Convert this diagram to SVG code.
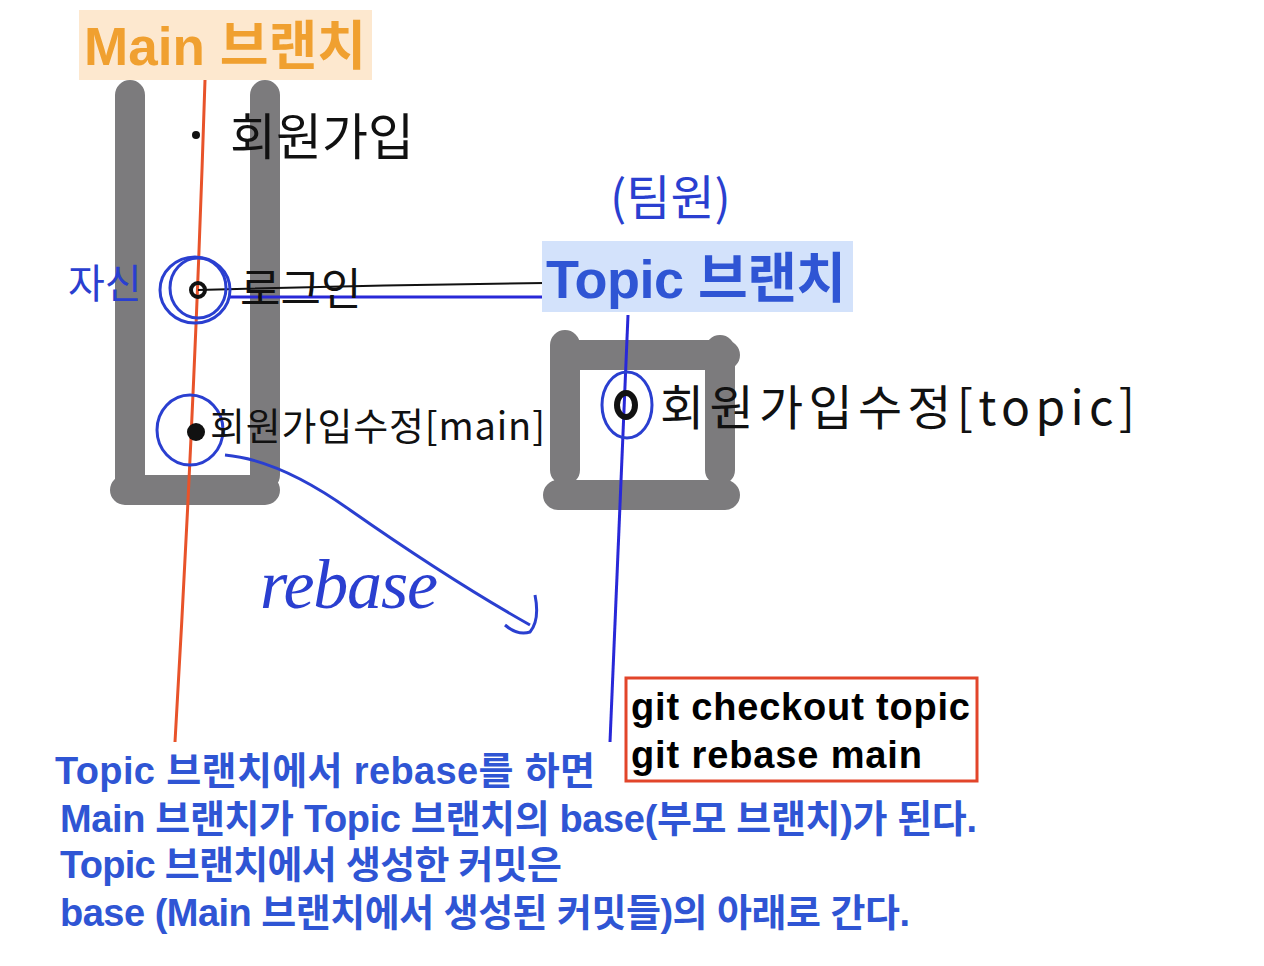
<svg xmlns="http://www.w3.org/2000/svg" width="1264" height="966" viewBox="0 0 1264 966">
<style>
.gray{stroke:#7c7b7d;stroke-width:30;fill:none;stroke-linecap:round;stroke-linejoin:round}
.hand{font-family:"Noto Sans CJK KR",sans-serif;fill:#111}
.bl{fill:#2f55d4;font-family:"Liberation Sans","Noto Sans CJK KR",sans-serif;font-weight:bold}
.circ{fill:none;stroke:#2a3fd0;stroke-width:3}
.git{font-size:38px;font-weight:bold;fill:#000;font-family:"Liberation Sans",sans-serif}
</style>
<rect width="1264" height="966" fill="#fff"/>
<g id="main-box">
<path class="gray" d="M130 95 V490 M265 95 V475 M125 490 H265"/>
</g>
<g id="topic-box">
<path class="gray" d="M565 355 H725 M565 345 V470 M720 350 V470 M558 495 H725"/>
</g>
<g id="connectors">
<path d="M205 80 Q195 400 175 742" stroke="#e8532a" stroke-width="3" fill="none"/>
<path d="M628 315 L610 742" stroke="#2828d8" stroke-width="3" fill="none"/>
<path d="M198 290 Q380 285 545 283" stroke="#111" stroke-width="2" fill="none"/>
<path d="M230 297 H545" stroke="#2828d8" stroke-width="3" fill="none"/>
<path d="M225 455 Q280 460 350 510 Q450 580 530 625 M535 595 Q540 620 530 632 Q518 636 505 625" stroke="#2a3fd0" stroke-width="3" fill="none"/>
</g>
<g id="commits">
<circle cx="196" cy="135" r="4" fill="#111"/>
<ellipse class="circ" cx="195" cy="290" rx="35" ry="33"/>
<ellipse class="circ" cx="198" cy="288" rx="28" ry="30"/>
<circle cx="198" cy="290" r="7" fill="none" stroke="#111" stroke-width="4"/>
<ellipse class="circ" cx="190" cy="430" rx="33" ry="35"/>
<circle cx="196" cy="432" r="9" fill="#111"/>
<ellipse class="circ" cx="627" cy="405" rx="25" ry="33"/>
<ellipse cx="626" cy="405" rx="9" ry="12" fill="none" stroke="#111" stroke-width="6"/>
</g>
<g id="hand-labels">
<text class="hand" x="230" y="155" font-size="50">회원가입</text>
<text class="hand" x="240" y="305" font-size="44">로그인</text>
<text class="hand" x="210" y="440" font-size="38" textLength="335">회원가입수정[main]</text>
<text class="hand" x="660" y="425" font-size="48" textLength="475">회원가입수정[topic]</text>
<text class="hand" x="68" y="298" font-size="40" style="fill:#2a3fd0">자신</text>
<text class="hand" x="610" y="215" font-size="48" style="fill:#2a3fd0">(팀원)</text>
<text x="260" y="608" font-size="70" font-family="Liberation Serif,serif" font-style="italic" fill="#2a3fd0" textLength="178">rebase</text>
</g>
<g id="main-label">
<rect x="79" y="10" width="293" height="70" fill="#fde8cf"/>
<text x="84" y="65" font-size="53" font-weight="bold" fill="#f0a030" font-family="Liberation Sans,Noto Sans CJK KR,sans-serif" textLength="282">Main 브랜치</text>
</g>
<g id="topic-label">
<rect x="542" y="241" width="311" height="71" fill="#d3e2fb"/>
<text class="bl" x="546" y="298" font-size="54" textLength="300">Topic 브랜치</text>
</g>
<g id="git-cmd">
<rect x="626" y="678" width="351" height="103" fill="#fff" stroke="#e2452a" stroke-width="3"/>
<text class="git" x="631" y="720" textLength="339">git checkout topic</text>
<text class="git" x="631" y="768" textLength="291">git rebase main</text>
</g>
<g id="note">
<text class="bl" x="55" y="784" font-size="38" textLength="540">Topic 브랜치에서 rebase를 하면</text>
<text class="bl" x="60" y="832" font-size="38" textLength="917">Main 브랜치가 Topic 브랜치의 base(부모 브랜치)가 된다.</text>
<text class="bl" x="60" y="878" font-size="38" textLength="502">Topic 브랜치에서 생성한 커밋은</text>
<text class="bl" x="60" y="926" font-size="38" textLength="850">base (Main 브랜치에서 생성된 커밋들)의 아래로 간다.</text>
</g>
</svg>
